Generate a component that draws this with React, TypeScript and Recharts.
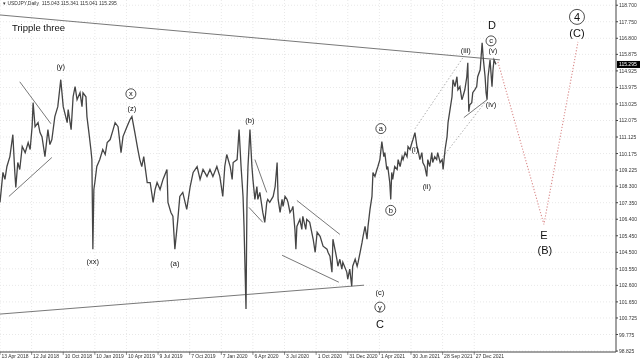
import React from 'react';
import { ComposedChart, Line, XAxis, YAxis, CartesianGrid, ReferenceLine, ReferenceDot } from 'recharts';

// trading-day index (0 = 13 Apr 2018), price
const PRICE_2018: [number, number][] = [
  [0, 107.37], [6, 109.09], [10, 108.69], [14, 109.43], [20, 110.0], [26, 111.26], [30, 109.09], [32, 108.23],
  [36, 109.66], [40, 109.26], [45, 110.58], [51, 110.23], [57, 110.81], [61, 110.41], [65, 111.72], [67, 113.1],
  [71, 111.72], [77, 111.95], [81, 111.38], [85, 111.15], [91, 110.0], [97, 111.55], [101, 110.69], [105, 110.98],
  [111, 112.3], [117, 112.87], [123, 114.42], [128, 112.87], [132, 112.41], [136, 111.95], [138, 112.7], [144, 111.55],
  [148, 113.44], [152, 114.02], [156, 113.27], [162, 113.67], [166, 112.87], [168, 113.67], [174, 113.44], [176, 112.3],
  [180, 111.38], [184, 110.41], [186, 109.83], [188, 104.68], [190, 108.11], [192, 108.51],
];

const PRICE_2019: [number, number][] = [
  [196, 109.43], [202, 109.83], [208, 110.41], [213, 110.12], [217, 110.81], [223, 110.98], [229, 111.55], [233, 111.95],
  [239, 111.72], [245, 110.23], [249, 111.15], [257, 111.72], [263, 112.12], [267, 112.3], [273, 111.38], [279, 110.41],
  [283, 109.83], [287, 109.43], [291, 110.0], [298, 108.51], [304, 108.51], [310, 107.37], [314, 108.11], [318, 108.51],
  [324, 108.11], [330, 108.69], [338, 109.26], [340, 107.37], [346, 106.79], [350, 106.57], [354, 104.68], [360, 106.39],
  [364, 107.71], [370, 107.94], [378, 106.97], [385, 108.28], [391, 109.09], [399, 109.43], [405, 108.69], [411, 109.26],
  [419, 108.86], [425, 109.26], [431, 108.86], [439, 109.43], [445, 108.86], [451, 107.71], [455, 109.43], [459, 110.12],
  [466, 109.43], [470, 108.69], [472, 109.66], [480, 109.83], [484, 111.55], [488, 109.43], [492, 107.71], [494, 105.99],
];

const PRICE_2020: [number, number][] = [
  [498, 101.24], [500, 107.54], [502, 109.43], [506, 111.55], [510, 109.43], [512, 108.69], [516, 107.54], [520, 108.28],
  [522, 107.54], [526, 107.94], [532, 106.79], [536, 106.22], [540, 107.37], [542, 107.54], [546, 107.37], [553, 107.71],
  [557, 108.28], [561, 109.66], [563, 107.54], [567, 106.79], [571, 107.54], [573, 107.14], [577, 107.71], [581, 107.54],
  [583, 107.37], [587, 106.79], [591, 106.97], [593, 107.14], [597, 105.82], [599, 104.68], [601, 105.99], [607, 106.39],
  [611, 105.82], [613, 106.57], [619, 105.82], [621, 106.39], [627, 106.22], [634, 105.25], [638, 104.5], [642, 105.65],
  [648, 105.42], [654, 104.85], [662, 104.68], [664, 104.5], [668, 104.27], [672, 103.36], [674, 105.25], [678, 104.68],
  [682, 104.1], [684, 103.7], [688, 104.1], [692, 103.53], [694, 103.93], [702, 103.36], [704, 102.96], [708, 103.53],
  [712, 102.55],
];

const PRICE_2021: [number, number][] = [
  [714, 103.7], [719, 104.1], [723, 103.7], [725, 103.93], [729, 104.5], [733, 105.08], [735, 105.42], [739, 105.99],
  [743, 105.25], [745, 105.99], [749, 106.97], [753, 107.71], [755, 109.09], [759, 108.86], [763, 109.26], [765, 109.43],
  [769, 109.83], [773, 110.86], [777, 110.0], [779, 110.23], [783, 109.26], [785, 109.43], [789, 108.51], [791, 107.54],
  [793, 109.09], [795, 108.69], [799, 109.43], [804, 109.26], [806, 109.83], [810, 109.43], [814, 110.0], [816, 109.83],
  [820, 110.23], [824, 110.0], [826, 110.58], [830, 110.41], [834, 110.81], [836, 110.98], [840, 111.38], [844, 110.58],
  [846, 110.41], [850, 109.83], [854, 110.23], [856, 109.66], [860, 109.43], [864, 108.86], [866, 109.83], [870, 109.43],
  [874, 110.23], [876, 109.66], [880, 110.0], [884, 109.83], [886, 110.23], [891, 109.66], [895, 109.83], [897, 109.26],
  [901, 110.41], [905, 111.15], [907, 111.95], [911, 112.7], [915, 113.44], [917, 114.42], [921, 114.02], [925, 114.59],
  [927, 113.84], [931, 114.02], [935, 113.27], [937, 113.44], [941, 113.84], [945, 114.59], [947, 115.39], [949, 112.58],
  [951, 112.98], [955, 113.1], [957, 113.67], [961, 113.84], [965, 114.02], [967, 114.59], [972, 114.99], [976, 116.54],
  [978, 115.73], [982, 114.59], [984, 113.67], [986, 113.27], [988, 114.59], [992, 115.56], [996, 114.02], [998, 114.99],
  [1000, 115.56], [1004, 115.3],
];

// projected path D -> E -> (C)
const PROJECTION: [number, number][] = [[1008, 115.44], [1101, 106.1], [1170, 116.59]];

const DATE_LABELS = [
  '13 Apr 2018', '12 Jul 2018', '10 Oct 2018', '10 Jan 2019', '10 Apr 2019', '9 Jul 2019', '7 Oct 2019', '7 Jan 2020',
  '6 Apr 2020', '3 Jul 2020', '1 Oct 2020', '31 Dec 2020', '1 Apr 2021', '30 Jun 2021', '28 Sep 2021', '27 Dec 2021',
];
const DATE_TICKS = DATE_LABELS.map((_, i) => i * 64);

const PRICE_TICKS = [
  118.7, 117.75, 116.8, 115.875, 114.925, 113.975, 113.025, 112.075, 111.125, 110.175, 109.225,
  108.3, 107.35, 106.4, 105.45, 104.5, 103.55, 102.6, 101.65, 100.725, 99.775, 98.825,
];

const LAST_PRICE = 115.295;

// trend lines: [day1, price1, day2, price2]
const TREND_LINES: [number, number, number, number][] = [
  [0, 118.14, 1012, 115.56],
  [0, 100.95, 737, 102.61],
  [40, 114.3, 103, 111.89],
  [18, 107.71, 105, 109.95],
  [516, 109.83, 540, 107.94],
  [504, 107.08, 532, 106.22],
  [601, 107.48, 688, 105.53],
  [571, 104.33, 686, 102.78],
  [939, 112.24, 986, 113.27],
];
const CHANNEL_LINES: [number, number, number, number][] = [
  [840, 111.6, 937, 115.68],
  [897, 110.0, 986, 113.27],
];

type Wave = { d: number; p: number; t: string; circled?: boolean; size?: number };
const WAVES: Wave[] = [
  { d: 123, p: 115.16, t: '(y)' },
  { d: 265, p: 113.61, t: 'x', circled: true },
  { d: 267, p: 112.75, t: '(z)' },
  { d: 188, p: 103.99, t: '(xx)' },
  { d: 354, p: 103.87, t: '(a)' },
  { d: 506, p: 112.07, t: '(b)' },
  { d: 771, p: 111.61, t: 'a', circled: true },
  { d: 791, p: 106.91, t: 'b', circled: true },
  { d: 840, p: 110.41, t: '(i)' },
  { d: 864, p: 108.28, t: '(ii)' },
  { d: 943, p: 116.08, t: '(iii)' },
  { d: 996, p: 117.57, t: 'D', size: 11 },
  { d: 994, p: 116.65, t: 'c', circled: true },
  { d: 998, p: 116.08, t: '(v)' },
  { d: 994, p: 112.98, t: '(iv)' },
  { d: 769, p: 102.21, t: '(c)' },
  { d: 769, p: 101.35, t: 'y', circled: true },
  { d: 769, p: 100.38, t: 'C', size: 11 },
  { d: 1101, p: 105.48, t: 'E', size: 11 },
  { d: 1103, p: 104.62, t: '(B)', size: 11 },
  { d: 1168, p: 118.03, t: '4', circled: true, size: 11 },
  { d: 1168, p: 117.11, t: '(C)', size: 11 },
];

const priceData = [...PRICE_2018, ...PRICE_2019, ...PRICE_2020, ...PRICE_2021].map(([d, p]) => ({ d, p }));
const projData = PROJECTION.map(([d, p]) => ({ d, p }));

const FONT = '"Liberation Sans", Arial, sans-serif';

const WaveLabel = ({ cx, cy, w }: any) => {
  const size = w.size || 7.5;
  if (w.circled) {
    const r = size > 9 ? 7.5 : 5;
    return (
      <g>
        <circle cx={cx} cy={cy} r={r} fill="#fff" stroke="#222" strokeWidth={0.8} />
        <text x={cx} y={cy} textAnchor="middle" dominantBaseline="central" fontSize={size} fontFamily={FONT} fill="#111">{w.t}</text>
      </g>
    );
  }
  return (
    <text x={cx} y={cy} textAnchor="middle" dominantBaseline="central" fontSize={size} fontFamily={FONT} fill="#111">{w.t}</text>
  );
};

const DateTick = ({ x, y, payload }: any) => (
  <g>
    <line x1={x} y1={y} x2={x} y2={y + 3} stroke="#444" strokeWidth={0.6} />
    <text x={x + 1.5} y={y + 3.5} fontSize={5} fontFamily={FONT} fill="#333" dominantBaseline="central">
      {DATE_LABELS[Math.round(payload.value / 64)]}
    </text>
  </g>
);

const PriceTick = ({ x, y, payload }: any) => (
  <text x={x} y={y} fontSize={5} fontFamily={FONT} fill="#333" dominantBaseline="central" textAnchor="start">
    {payload.value.toFixed(3)}
  </text>
);

const LastPrice = ({ cx, cy }: any) => (
  <g>
    <rect x={cx + 1} y={cy - 3.5} width={23} height={7} fill="#000" />
    <text x={cx + 3} y={cy} fontSize={5} fontFamily={FONT} fill="#fff" dominantBaseline="central">{LAST_PRICE.toFixed(3)}</text>
  </g>
);

export default function App() {
  return (
    <div style={{ position: 'absolute', left: 0, top: 0, width: 640, height: 360, willChange: 'transform' }}>
      <ComposedChart width={640} height={360} margin={{ top: 0, right: 0, bottom: 0, left: 0 }}>
        <CartesianGrid stroke="#e8e8e8" strokeDasharray="1 2" horizontalValues={PRICE_TICKS} verticalValues={DATE_TICKS} />
        <XAxis
          dataKey="d"
          type="number"
          domain={[0, 1247]}
          ticks={DATE_TICKS}
          interval={0}
          height={8}
          stroke="#444"
          tickLine={false}
          tickSize={0}
          tickMargin={0}
          tick={<DateTick />}
          allowDataOverflow
        />
        <YAxis
          orientation="right"
          type="number"
          domain={[98.77, 119.0]}
          ticks={PRICE_TICKS}
          interval={0}
          width={24}
          stroke="#444"
          tickSize={2}
          tickMargin={1}
          tick={<PriceTick />}
          allowDataOverflow
        />
        {TREND_LINES.map(([d1, p1, d2, p2], i) => (
          <ReferenceLine key={`t${i}`} segment={[{ x: d1, y: p1 }, { x: d2, y: p2 }]} stroke="#555" strokeWidth={0.8} ifOverflow="visible" />
        ))}
        {CHANNEL_LINES.map(([d1, p1, d2, p2], i) => (
          <ReferenceLine key={`c${i}`} segment={[{ x: d1, y: p1 }, { x: d2, y: p2 }]} stroke="#999" strokeWidth={0.8} strokeDasharray="1.5 2" ifOverflow="visible" />
        ))}
        <Line data={priceData} dataKey="p" type="linear" stroke="#454545" strokeWidth={1.3} dot={false} activeDot={false} isAnimationActive={false} />
        <Line data={projData} dataKey="p" type="linear" stroke="#d98a8a" strokeWidth={1.1} strokeDasharray="1.2 1.8" dot={false} activeDot={false} isAnimationActive={false} />
        {WAVES.map((w, i) => (
          <ReferenceDot key={`w${i}`} x={w.d} y={w.p} r={0} ifOverflow="visible" shape={(p: any) => <WaveLabel cx={p.cx} cy={p.cy} w={w} />} />
        ))}
        <ReferenceDot x={1247} y={LAST_PRICE} r={0} ifOverflow="visible" shape={(p: any) => <LastPrice cx={p.cx} cy={p.cy} />} />
      </ComposedChart>
      <div style={{ position: 'absolute', left: 3, top: 0, fontSize: 5, fontFamily: FONT, color: '#333', whiteSpace: 'nowrap', lineHeight: '7px' }}>
        ▾ USDJPY,Daily&nbsp; 115.043 115.341 115.041 115.295
      </div>
      <div style={{ position: 'absolute', left: 12, top: 22, fontSize: 9.5, fontFamily: FONT, color: '#111', whiteSpace: 'nowrap', lineHeight: '12px' }}>
        Tripple three
      </div>
    </div>
  );
}
